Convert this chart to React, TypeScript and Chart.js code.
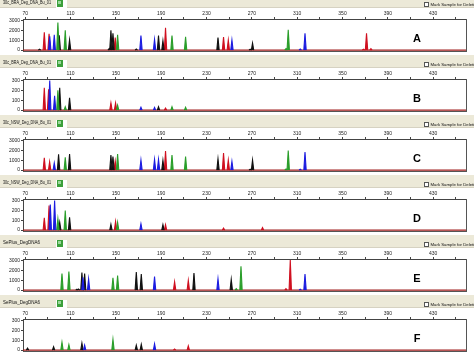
import React, { useEffect, useRef } from "react";
import { Chart, registerables } from "chart.js";
Chart.register(...registerables);

type Peak = [number, number];

// Size axis (bp)
const SIZE_MIN = 68;
const SIZE_MAX = 459;
const sizeTicks = [70, 90, 110, 130, 150, 170, 190, 210, 230, 250, 270, 290, 310, 330, 350, 370, 390, 410, 430, 450];
const sizeLabels = [70, 110, 150, 190, 230, 270, 310, 350, 390, 430];

const panelNames = [
  "30c_BRA_Deg_DNA_Bu_01",
  "30c_BRA_Deg_DNA_Bu_01",
  "30c_NSW_Deg_DNA_Bu_01",
  "30c_NSW_Deg_DNA_Bu_01",
  "SePlus_DegDNA6",
  "SePlus_DegDNA6",
];
const panelLetters = ["A", "B", "C", "D", "E", "F"];
const panelTopTick = [3000, 300, 3000, 300, 3000, 300];
const rfuTicksHigh = [0, 1000, 2000, 3000];
const rfuTicksLow = [0, 100, 200, 300];

// Panel A
const aBlue: Peak[] = [[91.6, 1400], [95.6, 1560], [172.1, 1470], [184.1, 1100], [252.4, 1020], [312.7, 120], [316.9, 1710]];
const aGreen: Peak[] = [[98.8, 2800], [105.3, 2000], [151.5, 1560], [199.5, 1470], [211.5, 1350], [300.1, 150], [302.1, 2070]];
const aBlack: Peak[] = [[82.6, 100], [100.0, 1500], [109.1, 1050], [144.0, 150], [145.6, 2000], [147.4, 1700], [168.0, 120], [187.6, 1470], [191.5, 960], [240.1, 1260], [268.5, 100], [270.6, 720]];
const aRed: Peak[] = [[86.8, 1800], [91.0, 1650], [149.4, 1260], [193.8, 2250], [245.0, 1320], [249.2, 1020], [368.5, 100], [371.2, 1710], [375.1, 150]];

// Panel B
const bBlue: Peak[] = [[91.6, 300], [95.9, 144], [172.1, 30], [184.1, 27]];
const bGreen: Peak[] = [[98.8, 200], [105.3, 35], [151.5, 50], [199.5, 35], [211.5, 30]];
const bBlack: Peak[] = [[100.4, 227], [109.1, 124], [187.6, 35]];
const bRed: Peak[] = [[86.8, 227], [90.6, 210], [145.6, 74], [149.7, 74], [193.8, 20]];

// Panel C
const cBlue: Peak[] = [[95.6, 740], [172.1, 1030], [184.1, 1090], [187.6, 1090], [252.4, 880], [312.7, 100], [316.9, 1820]];
const cGreen: Peak[] = [[105.3, 1290], [151.5, 1620], [199.5, 1530], [211.5, 1380], [300.1, 120], [302.1, 1970]];
const cBlack: Peak[] = [[99.4, 1590], [109.1, 1620], [145.6, 1530], [147.4, 1380], [191.5, 1000], [240.1, 1150], [268.5, 100], [270.6, 1030]];
const cRed: Peak[] = [[86.8, 1240], [91.5, 850], [149.4, 940], [193.8, 1940], [245.0, 1740], [249.2, 1030]];

// Panel D
const dBlue: Peak[] = [[92.1, 260], [95.9, 300], [172.1, 65]];
const dGreen: Peak[] = [[98.8, 115], [105.3, 197], [151.5, 80]];
const dBlack: Peak[] = [[100.4, 80], [109.1, 130], [145.6, 59], [191.5, 56]];
const dRed: Peak[] = [[86.8, 124], [91.0, 250], [149.7, 88], [193.8, 56], [245.0, 20], [279.4, 25]];

// Panel E
const eBlue: Peak[] = [[120.9, 1300], [125.9, 1150], [184.1, 1380], [240.1, 1150], [312.7, 100], [316.9, 1620]];
const eGreen: Peak[] = [[102.4, 1680], [108.5, 1880], [147.4, 1240], [151.5, 1470], [256.2, 150], [260.4, 2410]];
const eBlack: Peak[] = [[115.6, 100], [117.0, 120], [120.0, 1770], [122.4, 1680], [168.0, 1820], [172.4, 1620], [218.9, 1740], [251.8, 1090]];
const eRed: Peak[] = [[201.8, 850], [213.9, 1000], [300.1, 150], [303.9, 3050]];

// Panel F
const fBlue: Peak[] = [[122.4, 50], [184.1, 65]];
const fGreen: Peak[] = [[102.4, 80], [108.5, 56], [147.4, 110]];
const fBlack: Peak[] = [[72.0, 20], [95.0, 35], [120.0, 71], [168.0, 50], [172.4, 59]];
const fRed: Peak[] = [[201.8, 12], [213.9, 44]];

const panelPeaks: Peak[][][] = [
  [aBlue, aGreen, aBlack, aRed],
  [bBlue, bGreen, bBlack, bRed],
  [cBlue, cGreen, cBlack, cRed],
  [dBlue, dGreen, dBlack, dRed],
  [eBlue, eGreen, eBlack, eRed],
  [fBlue, fGreen, fBlack, fRed],
];
const dyeColors = ["#1c1ce0", "#2a9e2a", "#111111", "#d01020"];
const baselineColor = "#a01c1c";

const HALF_WIDTH = 1.05;

function spikes(peaks: Peak[]) {
  const pts: { x: number; y: number | null }[] = [];
  [...peaks]
    .sort((a, b) => a[0] - b[0])
    .forEach(([s, h]) => {
      pts.push({ x: s - HALF_WIDTH, y: 0 }, { x: s, y: h }, { x: s + HALF_WIDTH, y: 0 }, { x: s + HALF_WIDTH + 0.01, y: null });
    });
  return pts;
}

function makeConfig(i: number): any {
  const top = panelTopTick[i];
  const ymax = top * 1.05;
  const ymin = -top * 0.03;
  const yTicks = top > 1000 ? rfuTicksHigh : rfuTicksLow;
  const datasets: any[] = panelPeaks[i].map((peaks, k) => ({
    data: spikes(peaks),
    borderColor: dyeColors[k],
    backgroundColor: dyeColors[k],
    borderWidth: 1.1,
    fill: "origin",
    spanGaps: false,
    pointRadius: 0,
    tension: 0,
  }));
  datasets.push({
    data: [
      { x: SIZE_MIN, y: 0 },
      { x: SIZE_MAX, y: 0 },
    ],
    borderColor: baselineColor,
    borderWidth: 1.4,
    fill: false,
    pointRadius: 0,
  });

  const chrome = {
    id: "panelChrome",
    afterDraw(chart: any) {
      const ctx = chart.ctx as CanvasRenderingContext2D;
      const a = chart.chartArea;
      ctx.save();
      // frame right + bottom
      ctx.strokeStyle = "#555";
      ctx.lineWidth = 1;
      ctx.beginPath();
      ctx.moveTo(Math.round(a.right) + 0.5, a.top);
      ctx.lineTo(Math.round(a.right) + 0.5, a.bottom + 1);
      ctx.moveTo(a.left, Math.round(a.bottom) + 0.5);
      ctx.lineTo(a.right + 1, Math.round(a.bottom) + 0.5);
      ctx.stroke();
      // header band
      ctx.fillStyle = "#ece9d8";
      ctx.fillRect(0, 0, 474, 13);
      ctx.fillStyle = "#d6d2c2";
      ctx.fillRect(0, 12, 474, 1);
      // sample name (fit in ~48px)
      ctx.fillStyle = "#111";
      ctx.font = "4.5px Arial";
      ctx.textBaseline = "middle";
      ctx.textAlign = "left";
      const w = ctx.measureText(panelNames[i]).width;
      const maxW = 48;
      ctx.save();
      ctx.translate(3, 7.5);
      if (w > maxW) ctx.scale(maxW / w, 1);
      ctx.fillText(panelNames[i], 0, 0);
      ctx.restore();
      // icon
      ctx.fillStyle = "#ffffff";
      ctx.fillRect(56, 5, 11, 8);
      ctx.fillStyle = "#3ca03c";
      ctx.fillRect(57, 5, 6, 7);
      ctx.fillStyle = "#9ad89a";
      ctx.fillRect(58, 6, 3, 3);
      // checkbox
      ctx.fillStyle = "#fff";
      ctx.fillRect(424, 7, 4, 4);
      ctx.strokeStyle = "#555";
      ctx.strokeRect(424.5, 7.5, 4, 4);
      ctx.fillStyle = "#111";
      ctx.font = "4.3px Arial";
      ctx.fillText("Mark Sample for Deletion", 430.5, 9.5);
      // panel letter
      ctx.font = "bold 11px Arial";
      ctx.textAlign = "center";
      ctx.fillStyle = "#000";
      ctx.fillText(panelLetters[i], 417, 44);
      ctx.restore();
    },
  };

  return {
    type: "line",
    data: { datasets },
    plugins: [chrome],
    options: {
      animation: false,
      responsive: false,
      maintainAspectRatio: false,
      events: [],
      layout: { padding: { left: 0, right: 8, top: 13, bottom: 1 } },
      plugins: { legend: { display: false }, tooltip: { enabled: false } },
      elements: { point: { radius: 0 }, line: { tension: 0 } },
      scales: {
        x: {
          type: "linear",
          position: "top",
          min: SIZE_MIN,
          max: SIZE_MAX,
          afterBuildTicks: (s: any) => {
            s.ticks = sizeTicks.map((v) => ({ value: v }));
          },
          afterFit: (s: any) => {
            s.height = 11;
          },
          ticks: {
            autoSkip: false,
            maxRotation: 0,
            padding: 0,
            color: "#222",
            font: { size: 5, family: "Arial" },
            callback: (v: any) => (sizeLabels.includes(Number(v)) ? String(v) : ""),
          },
          grid: { drawOnChartArea: false, tickLength: 2, color: "#444" },
          border: { color: "#444", width: 1 },
        },
        y: {
          type: "linear",
          min: ymin,
          max: ymax,
          afterBuildTicks: (s: any) => {
            s.ticks = yTicks.map((v) => ({ value: v }));
          },
          afterFit: (s: any) => {
            s.width = 23;
          },
          ticks: {
            padding: 1,
            color: "#222",
            font: { size: 5, family: "Arial" },
            callback: (v: any) => String(v),
          },
          grid: { drawOnChartArea: false, tickLength: 2, color: "#444" },
          border: { color: "#444", width: 1 },
        },
      },
    },
  };
}

function Panel({ index }: { index: number }) {
  const ref = useRef<HTMLCanvasElement | null>(null);
  useEffect(() => {
    if (!ref.current) return;
    const chart = new Chart(ref.current, makeConfig(index));
    return () => chart.destroy();
  }, [index]);
  return (
    <canvas
      ref={ref}
      width={474}
      height={60}
      style={{ position: "absolute", left: 0, top: -5 + 60 * index, width: 474, height: 60, display: "block" }}
    />
  );
}

export default function App() {
  return (
    <div
      style={{
        position: "fixed",
        left: 0,
        top: 0,
        width: 474,
        height: 358,
        overflow: "hidden",
        background: "#ffffff",
      }}
    >
      {panelLetters.map((_, i) => (
        <Panel key={i} index={i} />
      ))}
    </div>
  );
}
